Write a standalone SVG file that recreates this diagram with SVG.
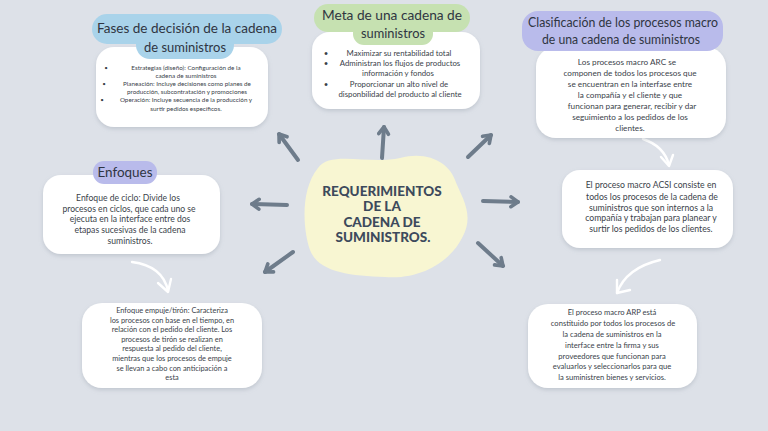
<svg xmlns="http://www.w3.org/2000/svg" width="768" height="431" viewBox="0 0 768 431">
<defs>
<style>
.bg{fill:#dde1e8}
.box{fill:#ffffff;filter:url(#sh)}
.t{font-family:Lato,"Open Sans",sans-serif;fill:#3a3f4a;text-anchor:middle}
.h{font-family:Lato,"Open Sans",sans-serif;fill:#2f3542;text-anchor:middle;font-size:13.5px}
.c{font-family:Lato,"Open Sans",sans-serif;fill:#3d4a5c;text-anchor:middle;font-weight:900;font-size:13.5px}
.ga{stroke:#6e7c8b;stroke-width:4;stroke-linecap:round;fill:none;marker-end:url(#ah)}
.wa{stroke:#ffffff;stroke-width:2.4;stroke-linecap:round;stroke-linejoin:round;fill:none}
</style>
<filter id="sh" x="-10%" y="-10%" width="120%" height="130%">
<feDropShadow dx="0" dy="2" stdDeviation="2" flood-color="#8a94a3" flood-opacity="0.35"/>
</filter>
<marker id="ah" viewBox="0 0 10 10" refX="8" refY="5" markerUnits="userSpaceOnUse" markerWidth="14" markerHeight="14" orient="auto">
<path d="M3,1.5 L8,5 L3,8.5" fill="none" stroke="#6e7c8b" stroke-width="2.6" stroke-linecap="round" stroke-linejoin="round"/>
</marker>
</defs>
<rect class="bg" x="0" y="0" width="768" height="431"/>

<g id="connectors">
<path class="ga" d="M298,160 L279,134"/>
<path class="ga" d="M382,158 L384,127"/>
<path class="ga" d="M468,157 L491,135"/>
<path class="ga" d="M287,205 L252,204"/>
<path class="ga" d="M483,201 L518,202"/>
<path class="ga" d="M293,252 L265,272"/>
<path class="ga" d="M478,243 L503,266"/>
<path class="wa" d="M132,262 Q163,266 168,291"/>
<path class="wa" d="M158,283 L168,292 L171,279"/>
<path class="wa" d="M643,139 Q664,146 669,165"/>
<path class="wa" d="M661,157 L669,166 L673,155"/>
<path class="wa" d="M660,260 Q626,268 617,293"/>
<path class="wa" d="M617,280 L617,293 L630,290"/>
</g>

<g id="center">
<path d="M318,168 C330,150 370,165 400,158 C430,150 450,165 455,180 C462,198 475,215 462,238 C450,262 420,280 385,277 C350,276 318,272 310,250 C303,230 300,190 318,168 Z" fill="#f8f6d2"/>
<text class="c" x="382" y="196">REQUERIMIENTOS</text>
<text class="c" x="382" y="211">DE LA</text>
<text class="c" x="382" y="227">CADENA DE</text>
<text class="c" x="383" y="242">SUMINISTROS.</text>
</g>

<g id="fases">
<rect class="box" x="96" y="47" width="172" height="80" rx="18"/>
<rect x="92" y="14" width="190" height="30" rx="15" fill="#a9d3ea"/>
<rect x="136" y="30" width="98" height="29" rx="14" fill="#a9d3ea"/>
<text class="h" x="187" y="33" textLength="180" lengthAdjust="spacingAndGlyphs">Fases de decisión de la cadena</text>
<text class="h" x="185" y="52" textLength="82" lengthAdjust="spacingAndGlyphs">de suministros</text>
<g class="t" font-size="6.3">
<text x="106" y="70">•</text><text x="186" y="70">Estrategias (diseño): Configuración de la</text>
<text x="186" y="78">cadena de suministros</text>
<text x="104" y="86">•</text><text x="187" y="86">Planeación: Incluye decisiones como planes de</text>
<text x="187" y="94">producción, subcontratación y promociones</text>
<text x="102" y="102">•</text><text x="186" y="102">Operación: Incluye secuencia de la producción y</text>
<text x="186" y="111">surtir pedidos específicos.</text>
</g>
</g>

<g id="meta">
<rect class="box" x="312" y="32" width="168" height="77" rx="18"/>
<rect x="314" y="4" width="156" height="28" rx="14" fill="#c6e1b1"/>
<rect x="353" y="22" width="80" height="23" rx="11" fill="#c6e1b1"/>
<text class="h" x="392" y="20" textLength="140" lengthAdjust="spacingAndGlyphs">Meta de una cadena de</text>
<text class="h" x="393" y="38" textLength="64" lengthAdjust="spacingAndGlyphs">suministros</text>
<g class="t" font-size="7.8">
<text x="326" y="56">•</text><text x="399" y="56">Maximizar su rentabilidad total</text>
<text x="326" y="66">•</text><text x="400" y="66">Administran los flujos de productos</text>
<text x="398" y="76">información y fondos</text>
<text x="326" y="87">•</text><text x="399" y="87">Proporcionar un alto nivel de</text>
<text x="400" y="97">disponbilidad del producto al cliente</text>
</g>
</g>

<g id="clasificacion">
<rect class="box" x="536" y="47" width="190" height="91" rx="20"/>
<rect x="522" y="11" width="201" height="40" rx="16" fill="#b9bbeb"/>
<text class="h" x="623" y="27" textLength="190" lengthAdjust="spacingAndGlyphs">Clasificación de los procesos macro</text>
<text class="h" x="621" y="44" textLength="158" lengthAdjust="spacingAndGlyphs">de una cadena de suministros</text>
<g class="t" font-size="8.2">
<text x="627" y="65">Los procesos macro ARC se</text>
<text x="630" y="76">componen de todos los procesos que</text>
<text x="630" y="87">se encuentran en la interfase entre</text>
<text x="630" y="98">la compañía y el cliente y que</text>
<text x="632" y="109">funcionan para generar, recibir y dar</text>
<text x="630" y="120">seguimiento a los pedidos de los</text>
<text x="630" y="131">clientes.</text>
</g>
</g>

<g id="enfoques">
<rect class="box" x="43" y="175" width="177" height="79" rx="18"/>
<rect x="93" y="161" width="64" height="23" rx="11" fill="#b9bbeb"/>
<text class="h" x="125" y="177" textLength="55" lengthAdjust="spacingAndGlyphs">Enfoques</text>
<g class="t" font-size="8.6">
<text x="128" y="201">Enfoque de ciclo: Divide los</text>
<text x="129" y="212">procesos en ciclos, que cada uno se</text>
<text x="130" y="222">ejecuta en la interface entre dos</text>
<text x="130" y="233">etapas sucesivas de la cadena</text>
<text x="130" y="244">suministros.</text>
</g>
</g>

<g id="acsi">
<rect class="box" x="562" y="170" width="171" height="78" rx="18"/>
<g class="t" font-size="8.7">
<text x="651" y="188">El proceso macro ACSI consiste en</text>
<text x="652" y="200">todos los procesos de la cadena de</text>
<text x="651" y="211">suministros que son internos a la</text>
<text x="651" y="221">compañía y trabajan para planear y</text>
<text x="651" y="232">surtir los pedidos de los clientes.</text>
</g>
</g>

<g id="empuje">
<rect class="box" x="82" y="303" width="180" height="85" rx="20"/>
<g class="t" font-size="7.4">
<text x="172" y="313">Enfoque empuje/tirón: Caracteriza</text>
<text x="172" y="322.6">los procesos con base en el tiempo, en</text>
<text x="172" y="332.2">relación con el pedido del cliente. Los</text>
<text x="172" y="341.8">procesos de tirón se realizan en</text>
<text x="172" y="351.4">respuesta al pedido del cliente,</text>
<text x="172" y="361">mientras que los procesos de empuje</text>
<text x="172" y="370.6">se llevan a cabo con anticipación a</text>
<text x="172" y="380.2">esta</text>
</g>
</g>

<g id="arp">
<rect class="box" x="528" y="304" width="169" height="84" rx="20"/>
<g class="t" font-size="7.6">
<text x="612" y="315">El proceso macro ARP está</text>
<text x="613" y="326">constituido por todos los procesos de</text>
<text x="612" y="337">la cadena de suministros en la</text>
<text x="612" y="348">interface entre la firma y sus</text>
<text x="612" y="359">proveedores que funcionan para</text>
<text x="612" y="369">evaluarlos y seleccionarlos para que</text>
<text x="612" y="380">la suministren bienes y servicios.</text>
</g>
</g>
</svg>
